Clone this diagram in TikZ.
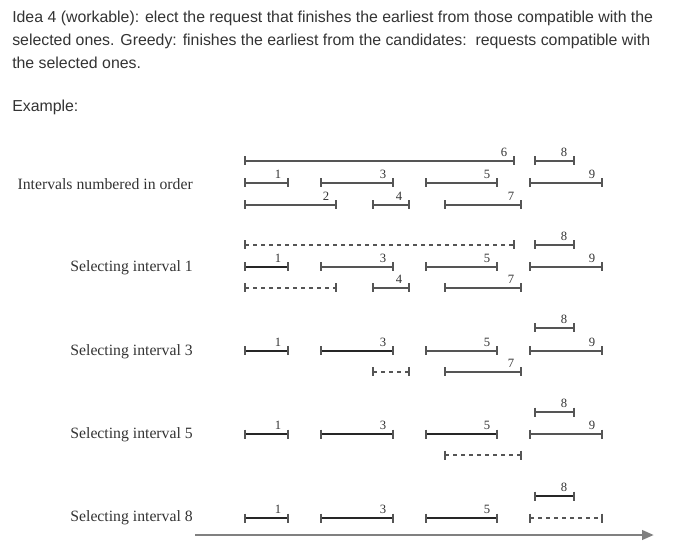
\documentclass[tikz,border=0pt]{standalone}
\usepackage{fontspec}
\setmainfont{Liberation Serif}
\newfontfamily\arialf{Liberation Sans}
\usetikzlibrary{arrows.meta}
\definecolor{ink}{HTML}{333333}
\definecolor{bar}{HTML}{555555}
\tikzset{
  txt/.style={anchor=west,inner sep=0pt,font=\arialf\fontsize{11.9}{13}\selectfont,text=ink},
  rowlab/.style={anchor=east,inner sep=0pt,font=\fontsize{11.8}{13}\selectfont,text=ink},
  ivnorm/.style={draw=bar,line width=0.9pt},
  ivsel/.style={draw=black!85,line width=2pt},
  ivdash/.style={draw=bar,line width=0.8pt,dashed},
  num/.style={inner sep=0pt,font=\fontsize{9.5}{10}\selectfont,text=ink}
}
\newcommand{\iv}[6]{%
  \draw[#6] (#2,#4) -- (#3,#4);
  \draw[draw=bar,line width=0.8pt] (#2,#4-4.5) -- (#2,#4+4.5) (#3,#4-4.5) -- (#3,#4+4.5);
  \ifx\relax#5\relax\else\node[num] (#1) at (#3-10,#4-9) {#5};\fi
}
\begin{document}
\begin{tikzpicture}[x=0.75pt,y=-0.75pt]
\useasboundingbox (0,0) rectangle (700,545);
\node[txt] (t1) at (12,18) {Idea 4 (workable): elect the request that finishes the earliest from those compatible with the};
\node[txt] (t2) at (12,41) {selected ones. Greedy: finishes the earliest from the candidates:\ \ requests compatible with};
\node[txt] (t3) at (12,63) {the selected ones.};
\node[txt] (t4) at (12,107) {Example:};
\node[rowlab] (r1) at (193,184) {Intervals numbered in order};
\node[rowlab] (r2) at (193,268) {Selecting interval 1};
\node[rowlab] (r3) at (193,352) {Selecting interval 3};
\node[rowlab] (r4) at (193,435) {Selecting interval 5};
\node[rowlab] (r5) at (193,518) {Selecting interval 8};
% block 1
\iv{a6}{245}{514}{161}{6}{ivnorm}
\iv{a8}{535}{574}{161}{8}{ivnorm}
\iv{a1}{245}{288}{183}{1}{ivnorm}
\iv{a3}{321}{393}{183}{3}{ivnorm}
\iv{a5}{426}{497}{183}{5}{ivnorm}
\iv{a9}{530}{602}{183}{9}{ivnorm}
\iv{a2}{245}{336}{205}{2}{ivnorm}
\iv{a4}{373}{409}{205}{4}{ivnorm}
\iv{a7}{445}{521}{205}{7}{ivnorm}
% block 2
\iv{b6}{245}{514}{245}{}{ivdash}
\iv{b8}{535}{574}{245}{8}{ivnorm}
\iv{b1}{245}{288}{267}{1}{ivsel}
\iv{b3}{321}{393}{267}{3}{ivnorm}
\iv{b5}{426}{497}{267}{5}{ivnorm}
\iv{b9}{530}{602}{267}{9}{ivnorm}
\iv{b2}{245}{336}{288}{}{ivdash}
\iv{b4}{373}{409}{288}{4}{ivnorm}
\iv{b7}{445}{521}{288}{7}{ivnorm}
% block 3
\iv{c8}{535}{574}{328}{8}{ivnorm}
\iv{c1}{245}{288}{351}{1}{ivsel}
\iv{c3}{321}{393}{351}{3}{ivsel}
\iv{c5}{426}{497}{351}{5}{ivnorm}
\iv{c9}{530}{602}{351}{9}{ivnorm}
\iv{c4}{373}{409}{372}{}{ivdash}
\iv{c7}{445}{521}{372}{7}{ivnorm}
% block 4
\iv{d8}{535}{574}{412}{8}{ivnorm}
\iv{d1}{245}{288}{434}{1}{ivsel}
\iv{d3}{321}{393}{434}{3}{ivsel}
\iv{d5}{426}{497}{434}{5}{ivsel}
\iv{d9}{530}{602}{434}{9}{ivnorm}
\iv{d7}{445}{521}{455}{}{ivdash}
% block 5
\iv{e8}{535}{574}{496}{8}{ivsel}
\iv{e1}{245}{288}{518}{1}{ivsel}
\iv{e3}{321}{393}{518}{3}{ivsel}
\iv{e5}{426}{497}{518}{5}{ivsel}
\iv{e9}{530}{602}{518}{}{ivdash}
% time axis
\coordinate (ax0) at (195,535);
\coordinate (ax1) at (654,535);
\draw[draw=gray,line width=2.2pt,-{Triangle[length=9pt,width=7pt]}] (ax0) -- (ax1);
\end{tikzpicture}
\end{document}
